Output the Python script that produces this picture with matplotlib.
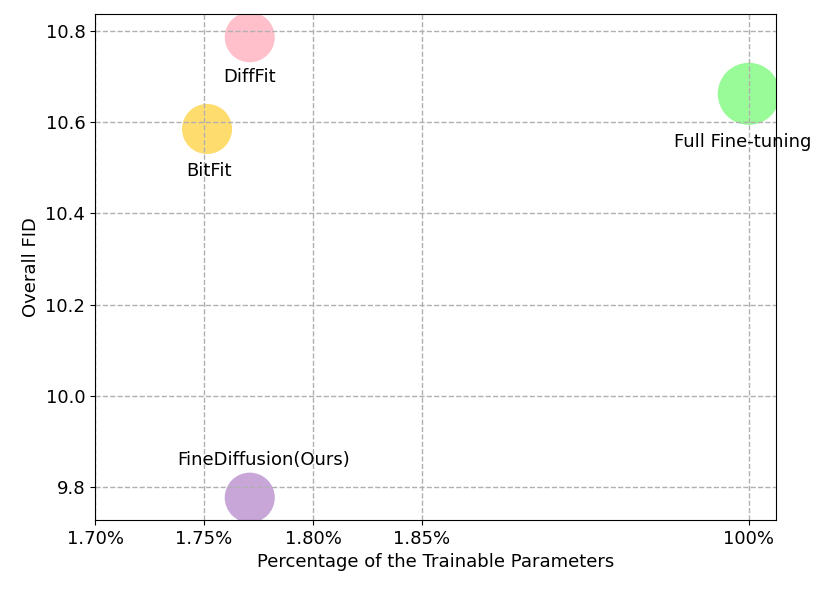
import matplotlib
matplotlib.use("Agg")
import matplotlib.pyplot as plt

# methods and their (trainable %, FID)
methods = ["DiffFit", "BitFit", "Full Fine-tuning", "FineDiffusion(Ours)"]
# x is plotted on a broken scale: 100% sits at position 2.00
x_pos = [1.771, 1.7514, 2.00, 1.771]
fid = [10.786, 10.585, 10.662, 9.777]
sizes = [1300, 1300, 2000, 1300]
colors = ["#FFC0CB", "#FFDC6E", "#98FB98", "#C9A6D8"]

# label positions
label_x = [1.771, 1.7525, 1.997, 1.7775]
label_y = [10.699, 10.493, 10.557, 9.859]

xticks = [1.70, 1.75, 1.80, 1.85, 2.00]
xticklabels = ["1.70%", "1.75%", "1.80%", "1.85%", "100%"]
yticks = [9.8, 10.0, 10.2, 10.4, 10.6, 10.8]

fig = plt.figure(figsize=(8.3, 5.92), dpi=100)
ax = fig.add_axes([0.1145, 0.1216, 0.8205, 0.8548])

ax.set_axisbelow(False)
ax.grid(True, linestyle="--", color="#b0b0b0", linewidth=1.0)
for sp in ax.spines.values():
    sp.set_zorder(4)
ax.scatter(x_pos, fid, s=sizes, c=colors, zorder=1, edgecolors="none")
for name, lx, ly in zip(methods, label_x, label_y):
    ax.text(lx, ly, name, ha="center", va="center", fontsize=13, zorder=3)

ax.set_xlim(1.70, 2.0125)
ax.set_ylim(9.728, 10.837)
ax.set_xticks(xticks)
ax.set_xticklabels(xticklabels)
ax.set_yticks(yticks)
ax.tick_params(labelsize=13)
ax.set_xlabel("Percentage of the Trainable Parameters", fontsize=13)
ax.set_ylabel("Overall FID", fontsize=13)

fig.savefig("out.png", dpi=100)
